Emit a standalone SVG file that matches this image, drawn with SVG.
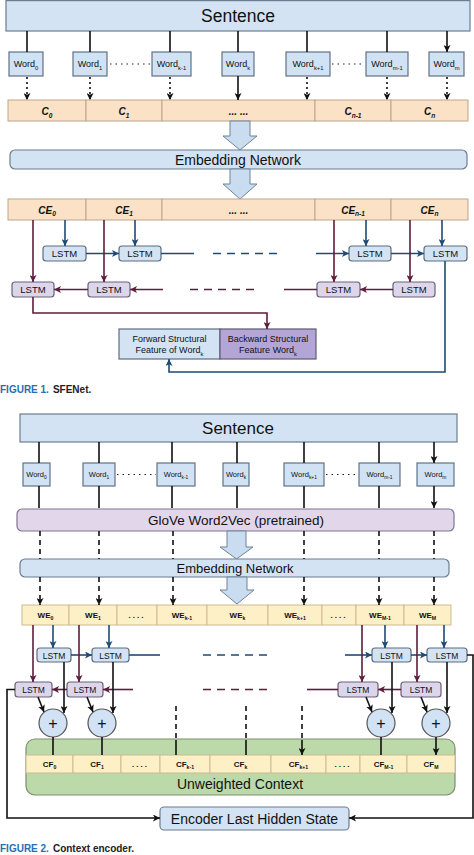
<svg xmlns="http://www.w3.org/2000/svg" width="474" height="855" viewBox="0 0 474 855">
<defs>
<style>
text{font-family:"Liberation Sans",Arial,sans-serif;fill:#111}
.bx{fill:#d3e3f4;stroke:#6b7d90;stroke-width:1.2}
.wd{fill:#d0e2f4;stroke:#5f7286;stroke-width:1.2}
.pk{fill:#fbe2c6;stroke:#bba58d;stroke-width:1}
.yl{fill:#fdefc6;stroke:#cdbb94;stroke-width:1}
.fl{fill:#d3e3f4;stroke:#5d6d80;stroke-width:1.2}
.bl{fill:#ddd5ea;stroke:#6a627a;stroke-width:1.2}
.gl{fill:#e1d6ea;stroke:#7f7590;stroke-width:1.2}
.gr{fill:#bcd9a9;stroke:#7c8e70;stroke-width:1.2}
.ba{fill:#c9dcf0;stroke:#6f8399;stroke-width:1}
.pl{fill:#d0e2f4;stroke:#555;stroke-width:1.2}
.k{stroke:#111;stroke-width:1.6;fill:none}
.kd{stroke:#111;stroke-width:1.6;fill:none;stroke-dasharray:2,3}
.kdd{stroke:#111;stroke-width:1.6;fill:none;stroke-dasharray:5,4}
.dots{stroke:#222;stroke-width:1.2;fill:none;stroke-dasharray:1.5,4}
.b{stroke:#1f4a75;stroke-width:1.6;fill:none}
.bd{stroke:#1f4a75;stroke-width:1.6;fill:none;stroke-dasharray:8,6}
.p{stroke:#5e1d3a;stroke-width:1.6;fill:none}
.pd{stroke:#5e1d3a;stroke-width:1.6;fill:none;stroke-dasharray:8,6}
.w1{font-size:9px;text-anchor:middle}
.w2{font-size:7.5px;text-anchor:middle}
.ci{font-size:10px;font-weight:bold;font-style:italic;text-anchor:middle}
.we{font-size:8px;font-weight:bold;text-anchor:middle}
.ls1{font-size:9.5px;text-anchor:middle}
.ls2{font-size:8.5px;text-anchor:middle}
.big{text-anchor:middle}
.sub{font-size:0.65em}
</style>
<marker id="ak" viewBox="0 0 10 10" refX="10" refY="5" markerWidth="7" markerHeight="7" markerUnits="userSpaceOnUse" orient="auto"><path d="M0,0 L10,5 L0,10 L2.5,5 z" fill="#111"/></marker>
<marker id="ab" viewBox="0 0 10 10" refX="10" refY="5" markerWidth="7" markerHeight="7" markerUnits="userSpaceOnUse" orient="auto"><path d="M0,0 L10,5 L0,10 L2.5,5 z" fill="#1f4a75"/></marker>
<marker id="ap" viewBox="0 0 10 10" refX="10" refY="5" markerWidth="7" markerHeight="7" markerUnits="userSpaceOnUse" orient="auto"><path d="M0,0 L10,5 L0,10 L2.5,5 z" fill="#5e1d3a"/></marker>
</defs>

<!-- ================= FIGURE 1 ================= -->
<g id="f1-sentence"><rect class="bx" x="6" y="0.6" width="464" height="30.4"/><text class="big" x="238" y="22" font-size="17.5">Sentence</text></g>
<g id="f1-word0"><rect class="wd" x="9" y="52" width="34" height="24"/><text class="w1" x="26" y="67">Word<tspan class="sub" dy="2.5">0</tspan></text></g>
<g id="f1-word1"><rect class="wd" x="73" y="52" width="34" height="24"/><text class="w1" x="90" y="67">Word<tspan class="sub" dy="2.5">1</tspan></text></g>
<g id="f1-wordk-1"><rect class="wd" x="152" y="52" width="39" height="24"/><text class="w1" x="171.5" y="67">Word<tspan class="sub" dy="2.5">k-1</tspan></text></g>
<g id="f1-wordk"><rect class="wd" x="222" y="52" width="32" height="24"/><text class="w1" x="238" y="67">Word<tspan class="sub" dy="2.5">k</tspan></text></g>
<g id="f1-wordk+1"><rect class="wd" x="286" y="52" width="44" height="24"/><text class="w1" x="308" y="67">Word<tspan class="sub" dy="2.5">k+1</tspan></text></g>
<g id="f1-wordm-1"><rect class="wd" x="366" y="52" width="42" height="24"/><text class="w1" x="387" y="67">Word<tspan class="sub" dy="2.5">m-1</tspan></text></g>
<g id="f1-wordm"><rect class="wd" x="429" y="52" width="35" height="24"/><text class="w1" x="446.5" y="67">Word<tspan class="sub" dy="2.5">m</tspan></text></g>

<g id="f1-c-row">
<rect class="pk" x="8" y="100" width="78" height="21"/>
<rect class="pk" x="86" y="100" width="76" height="21"/>
<rect class="pk" x="162" y="100" width="153" height="21"/>
<rect class="pk" x="315" y="100" width="76" height="21"/>
<rect class="pk" x="391" y="100" width="77" height="21"/>
<text class="ci" x="47" y="115">C<tspan class="sub" dy="2.5">0</tspan></text>
<text class="ci" x="124" y="115">C<tspan class="sub" dy="2.5">1</tspan></text>
<text class="ci" x="238.5" y="115">... ...</text>
<text class="ci" x="353" y="115">C<tspan class="sub" dy="2.5">n-1</tspan></text>
<text class="ci" x="429.5" y="115">C<tspan class="sub" dy="2.5">n</tspan></text>
</g>
<g id="f1-blockarrow1"><path class="ba" d="M230,121 H250 V136 H257 L240,150 L223,136 H230 Z"/></g>
<g id="f1-embedding"><rect class="bx" x="10" y="150" width="457" height="19" rx="5"/><text class="big" x="238" y="164.5" font-size="14">Embedding Network</text></g>
<g id="f1-blockarrow2"><path class="ba" d="M230,169 H250 V184 H257 L240,199 L223,184 H230 Z"/></g>
<g id="f1-ce-row">
<rect class="pk" x="8" y="199" width="78" height="21"/>
<rect class="pk" x="86" y="199" width="76" height="21"/>
<rect class="pk" x="162" y="199" width="153" height="21"/>
<rect class="pk" x="315" y="199" width="76" height="21"/>
<rect class="pk" x="391" y="199" width="77" height="21"/>
<text class="ci" x="47" y="213.5">CE<tspan class="sub" dy="2.5">0</tspan></text>
<text class="ci" x="124" y="213.5">CE<tspan class="sub" dy="2.5">1</tspan></text>
<text class="ci" x="238.5" y="213.5">... ...</text>
<text class="ci" x="353" y="213.5">CE<tspan class="sub" dy="2.5">n-1</tspan></text>
<text class="ci" x="429.5" y="213.5">CE<tspan class="sub" dy="2.5">n</tspan></text>
</g>
<g id="f1-lstm-f1"><rect class="fl" x="43" y="246" width="43" height="15" rx="3"/><text class="ls1" x="64.5" y="257">LSTM</text></g>
<g id="f1-lstm-f2"><rect class="fl" x="119" y="246" width="42" height="15" rx="3"/><text class="ls1" x="140" y="257">LSTM</text></g>
<g id="f1-lstm-f3"><rect class="fl" x="349" y="246" width="42" height="15" rx="3"/><text class="ls1" x="370" y="257">LSTM</text></g>
<g id="f1-lstm-f4"><rect class="fl" x="424" y="246" width="43" height="15" rx="3"/><text class="ls1" x="445.5" y="257">LSTM</text></g>
<g id="f1-lstm-b1"><rect class="bl" x="12" y="282" width="42" height="15" rx="3"/><text class="ls1" x="33" y="293">LSTM</text></g>
<g id="f1-lstm-b2"><rect class="bl" x="88" y="282" width="42" height="15" rx="3"/><text class="ls1" x="109" y="293">LSTM</text></g>
<g id="f1-lstm-b3"><rect class="bl" x="317" y="282" width="43" height="15" rx="3"/><text class="ls1" x="338.5" y="293">LSTM</text></g>
<g id="f1-lstm-b4"><rect class="bl" x="393" y="282" width="42" height="15" rx="3"/><text class="ls1" x="414" y="293">LSTM</text></g>
<g id="f1-forward-feature"><rect fill="#d3e3f4" stroke="#5d6d80" stroke-width="1.2" x="119" y="329" width="101" height="30"/><text class="w1" x="169.5" y="341.5">Forward Structural</text><text class="w1" x="169.5" y="353">Feature of Word<tspan class="sub" dy="2.5">k</tspan></text></g>
<g id="f1-backward-feature"><rect fill="#b3a6d6" stroke="#5d5a70" stroke-width="1.2" x="220" y="329" width="96" height="30"/><text class="w1" x="268" y="341.5">Backward Structural</text><text class="w1" x="268" y="353">Feature Word<tspan class="sub" dy="2.5">k</tspan></text></g>
<g id="f1-caption"><text x="0" y="393" font-size="10" font-weight="bold"><tspan fill="#2a6db5">FIGURE 1.</tspan><tspan dx="4" fill="#222">SFENet.</tspan></text></g>

<g id="f1-connectors">
<path class="k" marker-end="url(#ak)" d="M27,31 V52 M90,31 V52 M170,31 V52 M238,31 V52 M307,31 V52 M387,31 V52 M447,31 V52"/>
<path class="kd" marker-end="url(#ak)" d="M27,77 V100"/>
<path class="kd" marker-end="url(#ak)" d="M90,77 V100"/>
<path class="kd" marker-end="url(#ak)" d="M170,77 V100"/>
<path class="k" marker-end="url(#ak)" d="M238,76 V100"/>
<path class="kd" marker-end="url(#ak)" d="M307,77 V100"/>
<path class="kd" marker-end="url(#ak)" d="M387,77 V100"/>
<path class="kd" marker-end="url(#ak)" d="M447,77 V100"/>
<path class="dots" d="M110,64 H151 M332,64 H365"/>
<path class="b" marker-end="url(#ab)" d="M65,220 V246"/>
<path class="b" marker-end="url(#ab)" d="M135,220 V246"/>
<path class="b" marker-end="url(#ab)" d="M366,220 V246"/>
<path class="b" marker-end="url(#ab)" d="M442,220 V246"/>
<path class="b" marker-end="url(#ab)" d="M86,253.5 H119"/>
<path class="b" d="M161,253.5 H194"/>
<path class="bd" d="M213,253.5 H282"/>
<path class="b" marker-end="url(#ab)" d="M316,253.5 H349"/>
<path class="b" marker-end="url(#ab)" d="M391,253.5 H424"/>
<path class="b" marker-end="url(#ab)" d="M445,261 V372 H169 V359"/>
<path class="p" marker-end="url(#ap)" d="M33,220 V282"/>
<path class="p" marker-end="url(#ap)" d="M104,220 V282"/>
<path class="p" marker-end="url(#ap)" d="M334,220 V282"/>
<path class="p" marker-end="url(#ap)" d="M410,220 V282"/>
<path class="p" marker-end="url(#ap)" d="M393,289.5 H360"/>
<path class="p" d="M317,289.5 H284"/>
<path class="pd" d="M254,289.5 H185"/>
<path class="p" marker-end="url(#ap)" d="M163,289.5 H130"/>
<path class="p" marker-end="url(#ap)" d="M88,289.5 H54"/>
<path class="p" marker-end="url(#ap)" d="M33,297 V313 H267 V329"/>
</g>

<!-- ================= FIGURE 2 ================= -->
<g id="f2-sentence"><rect class="bx" x="20" y="414" width="437" height="28"/><text class="big" x="238" y="434" font-size="17">Sentence</text></g>
<g id="f2-word0"><rect class="wd" x="23" y="463" width="27" height="23"/><text class="w2" x="36.5" y="477">Word<tspan class="sub" dy="2.2">0</tspan></text></g>
<g id="f2-word1"><rect class="wd" x="83" y="463" width="32" height="23"/><text class="w2" x="99" y="477">Word<tspan class="sub" dy="2.2">1</tspan></text></g>
<g id="f2-wordk-1"><rect class="wd" x="157" y="463" width="38" height="23"/><text class="w2" x="176" y="477">Word<tspan class="sub" dy="2.2">k-1</tspan></text></g>
<g id="f2-wordk"><rect class="wd" x="223" y="463" width="26" height="23"/><text class="w2" x="236" y="477">Word<tspan class="sub" dy="2.2">k</tspan></text></g>
<g id="f2-wordk+1"><rect class="wd" x="284" y="463" width="40" height="23"/><text class="w2" x="304" y="477">Word<tspan class="sub" dy="2.2">k+1</tspan></text></g>
<g id="f2-wordm-1"><rect class="wd" x="359" y="463" width="41" height="23"/><text class="w2" x="379.5" y="477">Word<tspan class="sub" dy="2.2">m-1</tspan></text></g>
<g id="f2-wordm"><rect class="wd" x="417" y="463" width="37" height="23"/><text class="w2" x="435.5" y="477">Word<tspan class="sub" dy="2.2">m</tspan></text></g>
<g id="f2-glove"><rect class="gl" x="17" y="509" width="437" height="22" rx="5"/><text class="big" x="236" y="525" font-size="13.5">GloVe Word2Vec (pretrained)</text></g>
<g id="f2-blockarrow1"><path class="ba" d="M227,531 H246 V547 H253 L236.5,559 L220,547 H227 Z"/></g>
<g id="f2-embedding"><rect class="bx" x="20" y="559" width="429" height="18" rx="5"/><text class="big" x="235" y="572.5" font-size="13">Embedding Network</text></g>
<g id="f2-blockarrow2"><path class="ba" d="M227,577 H247 V590 H254 L237,604 L220,590 H227 Z"/></g>
<g id="f2-we-row">
<rect class="yl" x="22" y="605" width="47" height="20"/>
<rect class="yl" x="69" y="605" width="48" height="20"/>
<rect class="yl" x="117" y="605" width="40" height="20"/>
<rect class="yl" x="157" y="605" width="50" height="20"/>
<rect class="yl" x="207" y="605" width="61" height="20"/>
<rect class="yl" x="268" y="605" width="54" height="20"/>
<rect class="yl" x="322" y="605" width="34" height="20"/>
<rect class="yl" x="356" y="605" width="48" height="20"/>
<rect class="yl" x="404" y="605" width="47" height="20"/>
<text class="we" x="45.5" y="618">WE<tspan class="sub" dy="2">0</tspan></text>
<text class="we" x="93" y="618">WE<tspan class="sub" dy="2">1</tspan></text>
<text class="we" x="137" y="618" letter-spacing="2">....</text>
<text class="we" x="182" y="618">WE<tspan class="sub" dy="2">k-1</tspan></text>
<text class="we" x="237.5" y="618">WE<tspan class="sub" dy="2">k</tspan></text>
<text class="we" x="295" y="618">WE<tspan class="sub" dy="2">k+1</tspan></text>
<text class="we" x="339" y="618" letter-spacing="2">....</text>
<text class="we" x="380" y="618">WE<tspan class="sub" dy="2">M-1</tspan></text>
<text class="we" x="427.5" y="618">WE<tspan class="sub" dy="2">M</tspan></text>
</g>
<g id="f2-lstm-f1"><rect class="fl" x="37" y="648" width="34" height="14" rx="3"/><text class="ls2" x="54" y="658.5">LSTM</text></g>
<g id="f2-lstm-f2"><rect class="fl" x="92" y="648" width="37" height="14" rx="3"/><text class="ls2" x="110.5" y="658.5">LSTM</text></g>
<g id="f2-lstm-f3"><rect class="fl" x="372" y="648" width="39" height="14" rx="3"/><text class="ls2" x="391.5" y="658.5">LSTM</text></g>
<g id="f2-lstm-f4"><rect class="fl" x="427" y="648" width="40" height="14" rx="3"/><text class="ls2" x="447" y="658.5">LSTM</text></g>
<g id="f2-lstm-b1"><rect class="bl" x="15" y="682" width="37" height="15" rx="3"/><text class="ls2" x="33.5" y="692.5">LSTM</text></g>
<g id="f2-lstm-b2"><rect class="bl" x="67" y="682" width="36" height="15" rx="3"/><text class="ls2" x="85" y="692.5">LSTM</text></g>
<g id="f2-lstm-b3"><rect class="bl" x="338" y="682" width="40" height="15" rx="3"/><text class="ls2" x="358" y="692.5">LSTM</text></g>
<g id="f2-lstm-b4"><rect class="bl" x="401" y="682" width="40" height="15" rx="3"/><text class="ls2" x="421" y="692.5">LSTM</text></g>
<g id="f2-plus1"><circle class="pl" cx="53" cy="723" r="14"/><text class="big" x="53" y="728.5" font-size="16">+</text></g>
<g id="f2-plus2"><circle class="pl" cx="102" cy="723" r="14"/><text class="big" x="102" y="728.5" font-size="16">+</text></g>
<g id="f2-plus3"><circle class="pl" cx="381" cy="723" r="14"/><text class="big" x="381" y="728.5" font-size="16">+</text></g>
<g id="f2-plus4"><circle class="pl" cx="436" cy="723" r="14"/><text class="big" x="436" y="728.5" font-size="16">+</text></g>
<g id="f2-unweighted-context">
<rect class="gr" x="26" y="739" width="429" height="56" rx="9"/>
<rect class="yl" x="26" y="755" width="47" height="18"/>
<rect class="yl" x="73" y="755" width="48" height="18"/>
<rect class="yl" x="121" y="755" width="39" height="18"/>
<rect class="yl" x="160" y="755" width="50" height="18"/>
<rect class="yl" x="210" y="755" width="61" height="18"/>
<rect class="yl" x="271" y="755" width="55" height="18"/>
<rect class="yl" x="326" y="755" width="34" height="18"/>
<rect class="yl" x="360" y="755" width="47" height="18"/>
<rect class="yl" x="407" y="755" width="48" height="18"/>
<text class="we" x="49.5" y="767">CF<tspan class="sub" dy="2">0</tspan></text>
<text class="we" x="97" y="767">CF<tspan class="sub" dy="2">1</tspan></text>
<text class="we" x="140.5" y="767" letter-spacing="2">....</text>
<text class="we" x="185" y="767">CF<tspan class="sub" dy="2">k-1</tspan></text>
<text class="we" x="240.5" y="767">CF<tspan class="sub" dy="2">k</tspan></text>
<text class="we" x="298.5" y="767">CF<tspan class="sub" dy="2">k+1</tspan></text>
<text class="we" x="343" y="767" letter-spacing="2">....</text>
<text class="we" x="383.5" y="767">CF<tspan class="sub" dy="2">M-1</tspan></text>
<text class="we" x="431" y="767">CF<tspan class="sub" dy="2">M</tspan></text>
<text class="big" x="240" y="789" font-size="14">Unweighted Context</text>
</g>
<g id="f2-encoder-state"><rect class="bx" x="160" y="807" width="189" height="23" rx="4"/><text class="big" x="254.5" y="823.5" font-size="14">Encoder Last Hidden State</text></g>
<g id="f2-caption"><text x="0" y="852" font-size="10" font-weight="bold"><tspan fill="#2a6db5">FIGURE 2.</tspan><tspan dx="4" fill="#222">Context encoder.</tspan></text></g>

<g id="f2-connectors">
<path class="k" marker-end="url(#ak)" d="M39,442 V463 M99,442 V463 M172,442 V463 M237,442 V463 M304,442 V463 M379,442 V463 M434,442 V463"/>
<path class="k" marker-end="url(#ak)" d="M39,486 V508 M99,486 V508 M172,486 V508 M237,486 V508 M304,486 V508 M379,486 V508 M434,486 V508"/>
<path class="dots" d="M117,474.5 H156 M326,474.5 H358"/>
<path class="kdd" d="M40,531 V559 M99,531 V559 M173,531 V559 M304,531 V559 M379,531 V559 M434,531 V559"/>
<path class="kdd" marker-end="url(#ak)" d="M40,577 V605"/>
<path class="kdd" marker-end="url(#ak)" d="M99,577 V605"/>
<path class="kdd" marker-end="url(#ak)" d="M173,577 V605"/>
<path class="kdd" marker-end="url(#ak)" d="M304,577 V605"/>
<path class="kdd" marker-end="url(#ak)" d="M379,577 V605"/>
<path class="kdd" marker-end="url(#ak)" d="M434,577 V605"/>
<path class="b" marker-end="url(#ab)" d="M53,625 V648"/>
<path class="b" marker-end="url(#ab)" d="M109,625 V648"/>
<path class="b" marker-end="url(#ab)" d="M385,625 V648"/>
<path class="b" marker-end="url(#ab)" d="M444,625 V648"/>
<path class="b" marker-end="url(#ab)" d="M71,655 H92"/>
<path class="b" d="M129,655 H160"/>
<path class="bd" d="M203,655 H267"/>
<path class="b" marker-end="url(#ab)" d="M345,655 H372"/>
<path class="b" marker-end="url(#ab)" d="M411,655 H427"/>
<path class="p" marker-end="url(#ap)" d="M33,625 V682"/>
<path class="p" marker-end="url(#ap)" d="M79,625 V682"/>
<path class="p" marker-end="url(#ap)" d="M362,625 V682"/>
<path class="p" marker-end="url(#ap)" d="M417,625 V682"/>
<path class="p" marker-end="url(#ap)" d="M401,689.5 H378"/>
<path class="p" d="M338,689.5 H307"/>
<path class="pd" d="M267,689.5 H203"/>
<path class="p" marker-end="url(#ap)" d="M133,689.5 H103"/>
<path class="p" marker-end="url(#ap)" d="M67,689.5 H52"/>
<path class="k" marker-end="url(#ak)" d="M15,689.5 H7 V818 H160"/>
<path class="k" stroke="#333" marker-end="url(#ak)" d="M467,655 H473 V818 H349"/>
<path class="k" marker-end="url(#ak)" d="M64,662 V713"/>
<path class="k" marker-end="url(#ak)" d="M38,697 L44,712"/>
<path class="k" marker-end="url(#ak)" d="M113,662 V713"/>
<path class="k" marker-end="url(#ak)" d="M87,697 L93,712"/>
<path class="k" marker-end="url(#ak)" d="M392,662 V713"/>
<path class="k" marker-end="url(#ak)" d="M366,697 L372,712"/>
<path class="k" marker-end="url(#ak)" d="M447,662 V713"/>
<path class="k" marker-end="url(#ak)" d="M421,697 L427,712"/>
<path class="k" marker-end="url(#ak)" d="M53,737 V755 M102,737 V755 M381,737 V755 M436,737 V755"/>
<path class="kdd" d="M176,706 V740 M246,706 V740 M302,706 V740"/>
<path class="k" marker-end="url(#ak)" d="M176,740 V755 M246,740 V755 M302,740 V755"/>
</g>
</svg>
